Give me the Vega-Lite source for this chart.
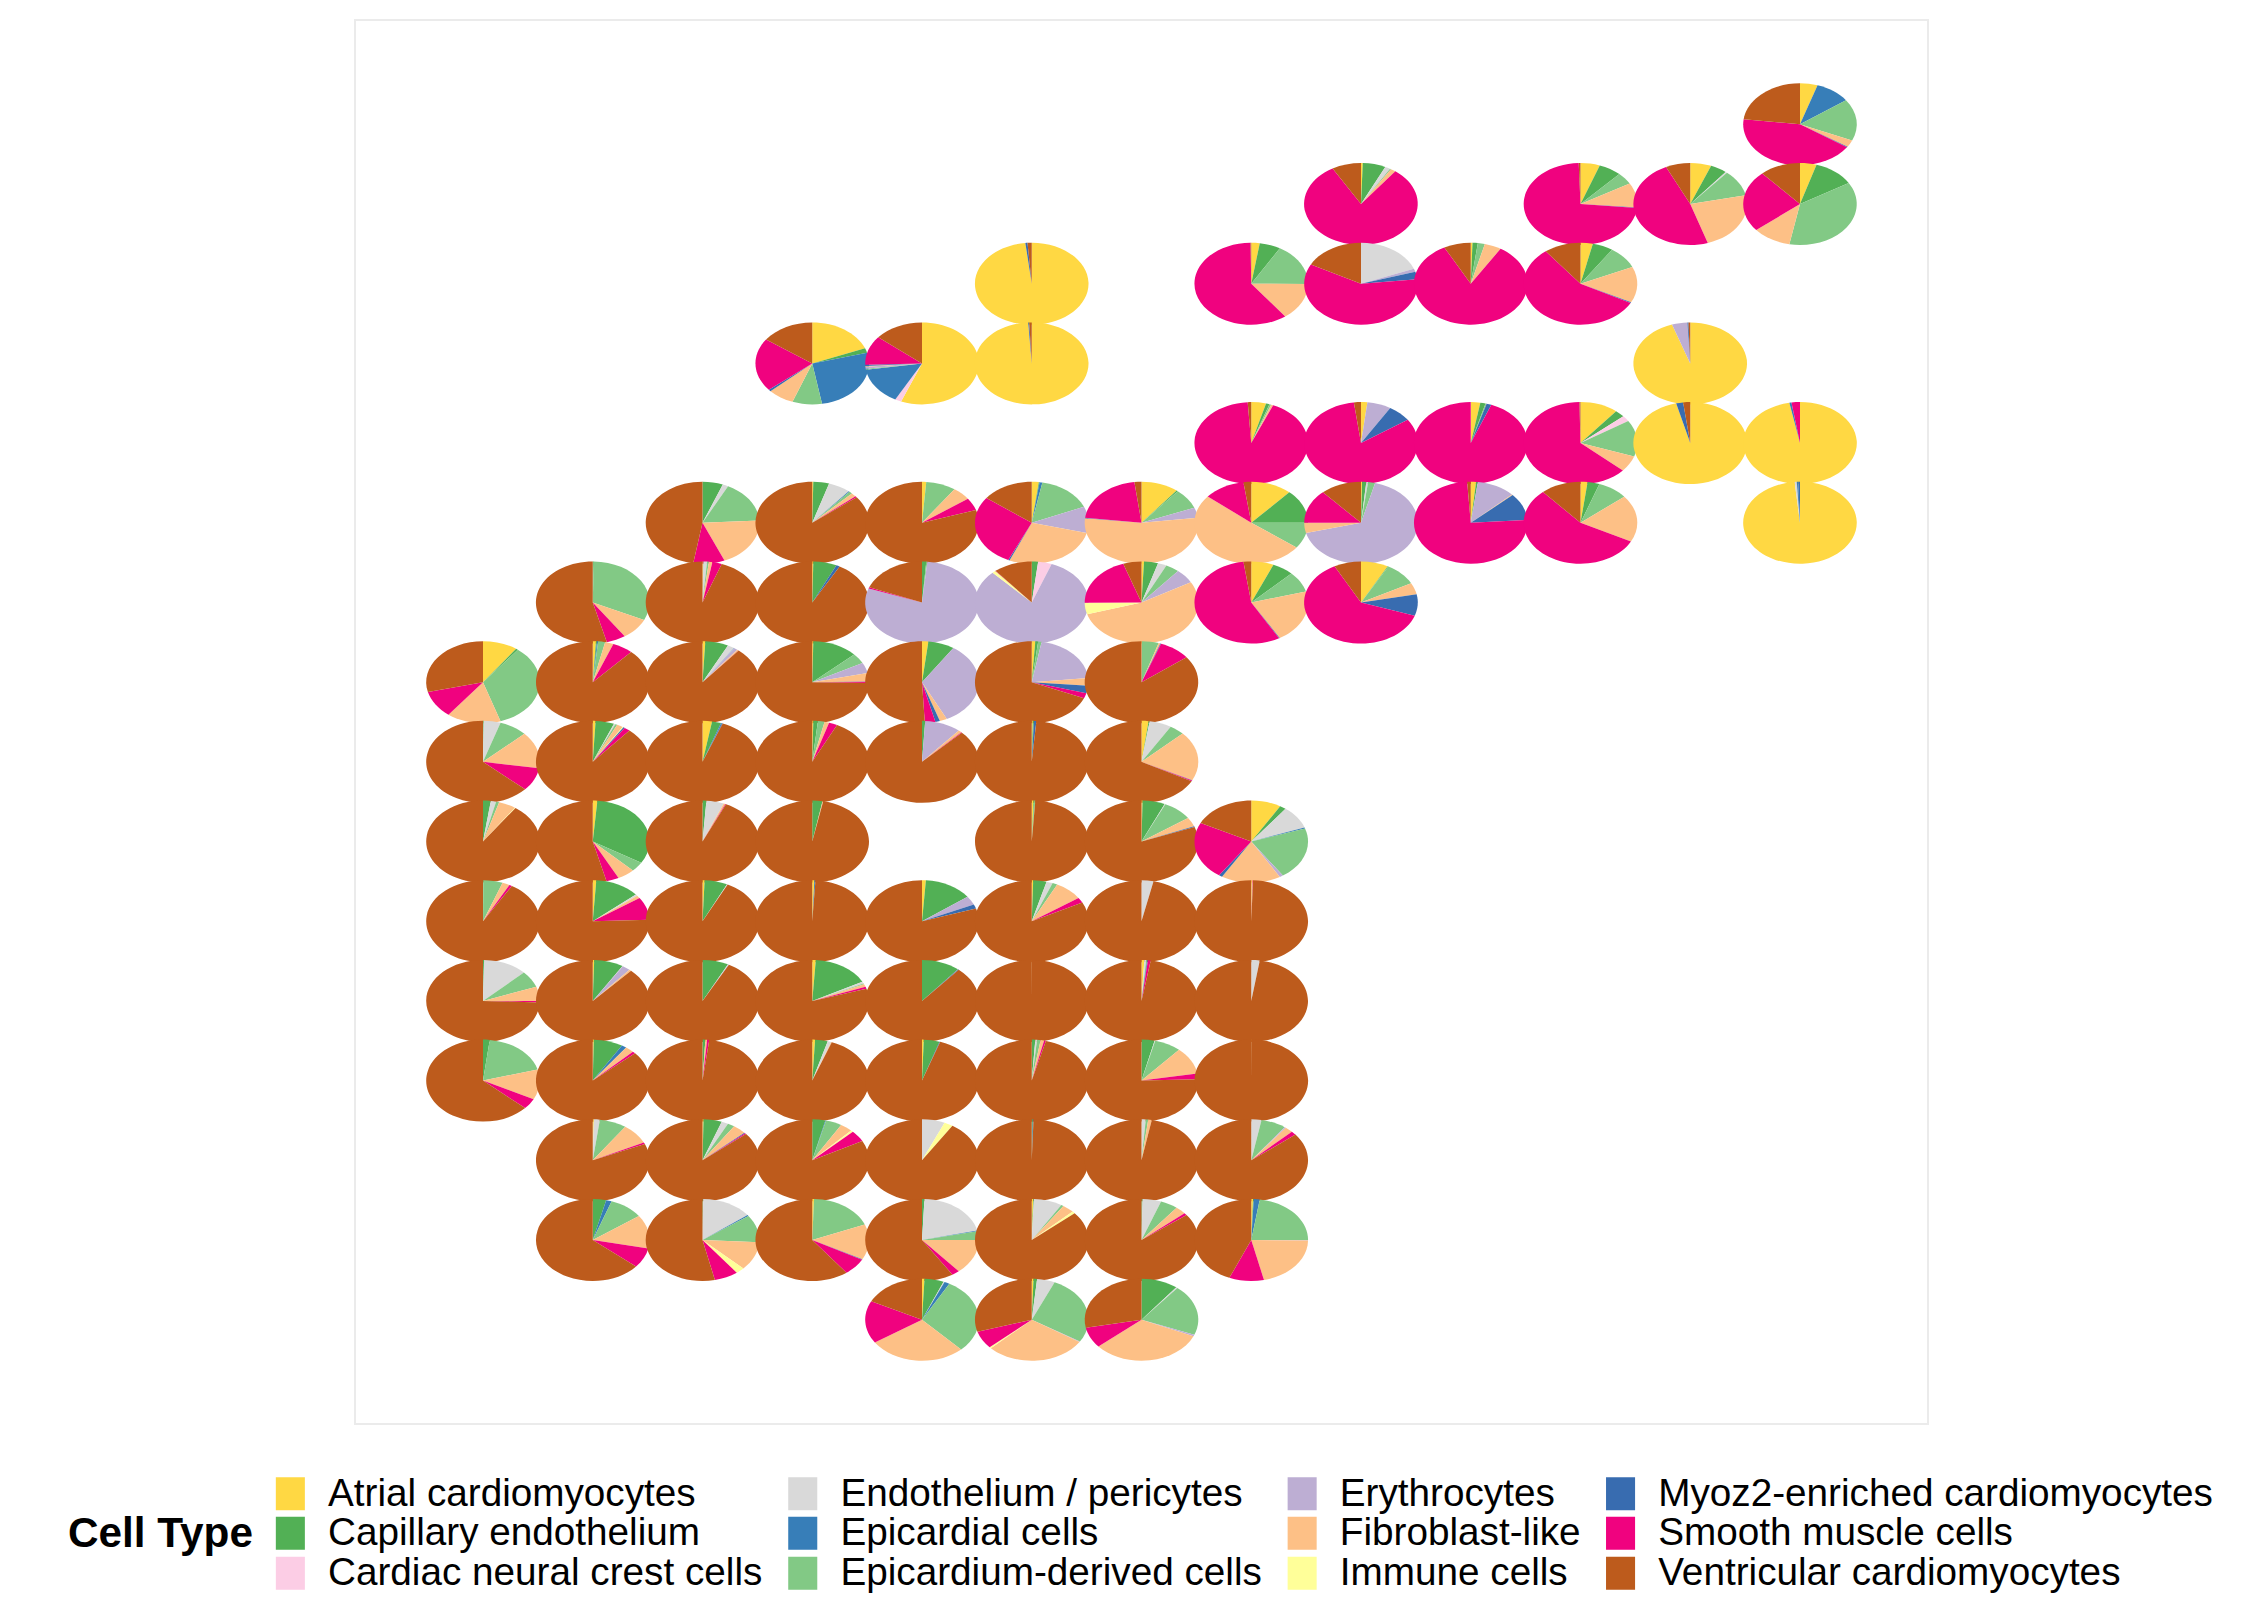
{
  "$schema": "https://vega.github.io/schema/vega-lite/v6.json",
  "autosize": "none",
  "padding": {"left": 355, "top": 20, "right": 314, "bottom": 190},
  "width": 1573,
  "height": 1404,
  "background": "white",
  "view": {"stroke": "#ebebeb", "strokeWidth": 2, "fill": "white"},
  "data": {"values": [
    {"col":13,"row":1,"A":5,"E":10,"F":16.5,"H":2.7,"J":0.3,"K":42.5,"L":23},
    {"col":9,"row":2,"A":0.5,"B":6.5,"D":1.5,"F":0.3,"H":1.5,"K":81,"L":8.3},
    {"col":11,"row":2,"A":5.5,"B":6.5,"F":4.7,"H":9.7,"J":0.2,"K":73,"L":0.5},
    {"col":12,"row":2,"A":6,"B":4.7,"D":0.5,"F":10.4,"H":23.4,"K":48,"L":7},
    {"col":13,"row":2,"A":4.7,"B":11.7,"F":36.6,"H":11,"K":24.4,"L":11.6},
    {"col":6,"row":3,"A":98.2,"J":0.6,"L":1.2},
    {"col":8,"row":3,"A":2.4,"B":6,"F":16.7,"H":14.7,"K":60,"L":0.2},
    {"col":9,"row":3,"D":19,"G":1.3,"J":3,"K":59.4,"L":17.2},
    {"col":10,"row":3,"A":0.5,"B":1.5,"F":2,"H":4.8,"K":83.5,"L":7.7},
    {"col":11,"row":3,"A":3.5,"B":5.9,"F":8.9,"H":14.2,"J":0.3,"K":56.7,"L":10.5},
    {"col":4,"row":4,"A":19,"B":1.8,"E":26.4,"F":8.4,"H":7.5,"J":0.7,"K":21,"L":15.1},
    {"col":5,"row":4,"A":56,"C":1.8,"E":14.7,"F":0.4,"G":0.8,"H":0.3,"J":0.5,"K":11.5,"L":14},
    {"col":6,"row":4,"A":99,"J":0.3,"L":0.7},
    {"col":12,"row":4,"A":94.8,"G":4.4,"J":0.3,"L":0.5},
    {"col":8,"row":5,"A":4.2,"B":1,"F":0.5,"H":0.6,"K":92.7,"L":1},
    {"col":9,"row":5,"A":1.8,"G":6.8,"J":6.8,"K":82.6,"L":2},
    {"col":10,"row":5,"A":2.7,"B":1.5,"F":0.3,"J":1.4,"K":94},
    {"col":11,"row":5,"A":10.8,"B":2.8,"C":2.3,"F":14.4,"H":6.3,"K":63.1,"L":0.3},
    {"col":12,"row":5,"A":96,"J":2,"L":2},
    {"col":13,"row":5,"A":97,"E":0.6,"K":2.4},
    {"col":3,"row":6,"B":5.8,"D":1.6,"F":16.6,"H":19.5,"K":8.9,"L":47.2},
    {"col":4,"row":6,"A":0.3,"B":4.5,"D":6.3,"E":0.3,"F":0.9,"H":1.5,"K":0.5,"L":85.7},
    {"col":5,"row":6,"A":1.2,"F":8.5,"H":5.3,"K":5,"L":80},
    {"col":6,"row":6,"A":2,"B":0.2,"E":0.8,"F":15.6,"G":10.4,"H":27.4,"J":0.4,"K":28.5,"L":14.7},
    {"col":7,"row":6,"A":10.6,"B":0.4,"F":8,"G":4,"H":53.7,"J":0.2,"K":21,"L":2},
    {"col":8,"row":6,"A":11.7,"B":13.3,"F":10.3,"H":50.8,"K":11.7,"L":2.2},
    {"col":9,"row":6,"A":0.3,"B":1.2,"D":0.5,"F":2,"G":67,"H":4,"K":13.3,"L":11.7},
    {"col":10,"row":6,"A":1.5,"B":0.5,"G":10.9,"H":0.3,"J":10.7,"K":75,"L":1},
    {"col":11,"row":6,"A":2,"B":3.4,"F":8.6,"H":18.6,"K":55.9,"L":11.5},
    {"col":13,"row":6,"A":98.5,"D":0.6,"E":0.4,"J":0.5},
    {"col":2,"row":7,"B":0.3,"F":31.7,"H":8.5,"K":5.5,"L":54},
    {"col":3,"row":7,"A":0.2,"B":0.1,"D":1,"F":0.5,"H":1,"K":2.7,"L":94.5},
    {"col":4,"row":7,"A":0.3,"B":6.7,"J":1,"L":92},
    {"col":5,"row":7,"B":1.2,"F":0.3,"G":79,"K":0.5,"L":19},
    {"col":6,"row":7,"B":1.8,"C":3.9,"G":82.2,"I":1,"K":0.1,"L":11},
    {"col":7,"row":7,"A":0.7,"B":4,"D":2.5,"F":3.9,"G":5.6,"H":53.4,"I":4.6,"K":19.8,"L":5.2},
    {"col":8,"row":7,"A":6.4,"B":6.1,"F":8.2,"H":21,"J":0.2,"K":56,"L":2.2},
    {"col":9,"row":7,"A":7.8,"B":0.2,"F":9.2,"H":4.6,"J":8.4,"K":62,"L":7.7},
    {"col":1,"row":8,"A":9.9,"B":0.6,"F":34.5,"H":15.4,"K":10.7,"L":28.9},
    {"col":2,"row":8,"A":0.9,"B":0.3,"E":0.3,"F":2,"H":2.4,"K":5.9,"L":88},
    {"col":3,"row":8,"A":0.8,"B":6.6,"D":2,"E":0.1,"G":1,"H":0.4,"K":0.1,"L":89},
    {"col":4,"row":8,"A":0.3,"B":12.9,"F":4.1,"G":4.1,"H":3.3,"J":0.1,"K":0.5,"L":74.7},
    {"col":5,"row":8,"A":1.8,"B":7.5,"G":33.5,"H":2.1,"J":1.3,"K":3,"L":50.8},
    {"col":6,"row":8,"A":1,"B":0.8,"F":1,"G":20.6,"H":3,"J":3,"K":2,"L":68.6},
    {"col":7,"row":8,"A":0.1,"F":4.8,"H":0.5,"J":0.2,"K":9,"L":85.5},
    {"col":1,"row":9,"B":0.2,"D":4.8,"F":8,"H":14.5,"K":9.2,"L":63.3},
    {"col":2,"row":9,"A":0.8,"B":5.3,"D":0.4,"F":0.6,"H":1.7,"I":0.3,"J":0.4,"K":1.7,"L":88.8},
    {"col":3,"row":9,"A":2.7,"B":2.6,"E":0.3,"J":0.2,"L":94.2},
    {"col":4,"row":9,"A":0.3,"B":1.3,"F":1.9,"H":1.3,"K":2.4,"L":92.8},
    {"col":5,"row":9,"B":0.9,"G":10.3,"H":1,"K":0.2,"L":87.6},
    {"col":6,"row":9,"A":0.3,"B":0.3,"J":0.7,"L":98.7},
    {"col":7,"row":9,"A":2,"B":0.3,"D":6.3,"F":4.3,"H":19.5,"J":0.1,"K":0.3,"L":67.2},
    {"col":1,"row":10,"B":2.2,"D":1.5,"F":0.9,"H":4.9,"I":0.2,"L":90.3},
    {"col":2,"row":10,"A":1.3,"B":32.4,"F":3.8,"H":5,"K":3.6,"L":53.9},
    {"col":3,"row":10,"B":1.1,"D":5,"H":0.5,"K":0.2,"L":93.2},
    {"col":4,"row":10,"B":2.9,"H":0.2,"L":96.9},
    {"col":6,"row":10,"A":0.5,"B":0.2,"F":0.3,"L":99},
    {"col":7,"row":10,"A":0.3,"B":6.4,"D":0.2,"F":8.4,"H":3.6,"J":0.3,"L":80.8},
    {"col":8,"row":10,"A":8.5,"B":1.8,"D":9.1,"E":0.4,"F":20.8,"G":1,"H":17,"J":1,"K":22.9,"L":17.5},
    {"col":1,"row":11,"B":0.1,"F":5.5,"H":2.1,"K":0.8,"L":91.5},
    {"col":2,"row":11,"A":1,"B":12.7,"D":0.6,"H":1.1,"K":9,"L":75.5},
    {"col":3,"row":11,"A":0.6,"B":6.5,"D":0.2,"L":92.6},
    {"col":4,"row":11,"A":0.6,"E":0.3,"L":99},
    {"col":5,"row":11,"A":1.1,"B":13.7,"G":3.5,"J":1.7,"L":80},
    {"col":6,"row":11,"A":0.4,"B":3.8,"D":1.8,"F":1.4,"H":8,"K":2.1,"L":82.5},
    {"col":7,"row":11,"D":3.4,"L":96.6},
    {"col":8,"row":11,"A":0.2,"H":0.2,"K":0.1,"L":99.5},
    {"col":1,"row":12,"B":0.3,"D":12.5,"F":6.6,"H":5.6,"K":0.6,"L":74.4},
    {"col":2,"row":12,"A":0.4,"B":8.4,"D":0.1,"G":2.3,"H":0.6,"L":88.3},
    {"col":3,"row":12,"B":7.4,"D":0.2,"G":0.1,"L":92.3},
    {"col":4,"row":12,"A":1,"B":16.2,"D":0.8,"F":0.3,"H":1.1,"K":0.8,"L":79.8},
    {"col":5,"row":12,"B":10.9,"H":0.1,"J":0.2,"L":88.8},
    {"col":6,"row":12,"A":0.05,"L":99.95},
    {"col":7,"row":12,"A":0.8,"D":0.5,"F":0.3,"J":0.2,"K":0.8,"L":97.4},
    {"col":8,"row":12,"D":2.4,"L":97.6},
    {"col":1,"row":13,"B":1.9,"F":18.7,"H":11.9,"K":4.2,"L":63.3},
    {"col":2,"row":13,"A":0.3,"B":8.3,"E":1.4,"H":2.5,"K":0.9,"L":86.6},
    {"col":3,"row":13,"B":0.8,"H":0.5,"K":0.6,"L":98.1},
    {"col":4,"row":13,"A":0.8,"B":3.6,"D":1,"H":0.2,"L":94.4},
    {"col":5,"row":13,"A":0.5,"B":4.5,"J":0.2,"L":94.8},
    {"col":6,"row":13,"B":1,"D":0.5,"F":1,"H":1,"K":0.5,"L":96},
    {"col":7,"row":13,"B":3.7,"D":0.2,"F":7.6,"H":10.7,"K":2.3,"L":75.5},
    {"col":8,"row":13,"A":0.05,"L":99.95},
    {"col":2,"row":14,"A":0.3,"D":1.7,"F":7.7,"H":8.1,"K":0.7,"L":81.5},
    {"col":3,"row":14,"A":0.3,"B":5.2,"D":1.9,"F":2,"H":3.8,"J":0.3,"K":0.4,"L":86},
    {"col":4,"row":14,"B":3.7,"E":0.2,"F":4.6,"H":3.5,"I":0.7,"K":4.5,"L":82.8},
    {"col":5,"row":14,"D":6.5,"I":2.5,"L":91},
    {"col":6,"row":14,"B":0.3,"J":0.2,"L":99.5},
    {"col":7,"row":14,"D":1.2,"F":0.7,"H":1,"L":97.1},
    {"col":8,"row":14,"D":2.9,"F":7.1,"G":0.4,"H":2.3,"K":1.5,"L":85.8},
    {"col":2,"row":15,"B":3.8,"E":1.6,"F":9.7,"H":13.2,"K":7.9,"L":63.8},
    {"col":3,"row":15,"B":0.2,"D":14.4,"E":0.4,"F":10.9,"H":11.3,"I":2.5,"K":6.8,"L":53.5},
    {"col":4,"row":15,"A":0.5,"F":18.3,"J":0.2,"H":14,"K":6.7,"L":60.3},
    {"col":5,"row":15,"B":0.7,"D":20.6,"E":0.3,"F":3.4,"H":13.8,"K":2.2,"L":59},
    {"col":6,"row":15,"A":0.4,"B":0.2,"D":8.1,"F":0.7,"H":3.4,"I":0.8,"L":86.2},
    {"col":7,"row":15,"B":0.3,"D":5.3,"F":5,"H":3.1,"K":0.9,"L":85.4},
    {"col":8,"row":15,"A":0.5,"B":0.2,"E":1.7,"F":22.6,"G":0.2,"H":21.2,"K":9.9,"L":43.7},
    {"col":5,"row":16,"A":0.7,"B":5.5,"D":0.3,"E":1.5,"F":29.9,"H":27.7,"K":16.8,"L":17.6},
    {"col":6,"row":16,"A":0.5,"B":1,"D":5.1,"F":27.3,"G":0.2,"H":28.7,"I":0.5,"K":7,"L":29.7},
    {"col":7,"row":16,"B":10.5,"D":0.4,"F":20.1,"G":0.6,"H":32.1,"K":8.2,"L":28.1}
  ]},
  "transform": [
    {"fold": ["A","B","C","D","E","F","G","H","I","J","K","L"], "as": ["code","share"]},
    {"filter": "datum.share > 0"},
    {"lookup": "code", "from": {"data": {"values": [
      {"code":"A","name":"Atrial cardiomyocytes"},
      {"code":"B","name":"Capillary endothelium"},
      {"code":"C","name":"Cardiac neural crest cells"},
      {"code":"D","name":"Endothelium / pericytes"},
      {"code":"E","name":"Epicardial cells"},
      {"code":"F","name":"Epicardium-derived cells"},
      {"code":"G","name":"Erythrocytes"},
      {"code":"H","name":"Fibroblast-like"},
      {"code":"I","name":"Immune cells"},
      {"code":"J","name":"Myoz2-enriched cardiomyocytes"},
      {"code":"K","name":"Smooth muscle cells"},
      {"code":"L","name":"Ventricular cardiomyocytes"}
    ]}, "key": "code", "fields": ["name"]}},
    {"stack": "share", "groupby": ["col","row"], "sort": [{"field": "code", "order": "ascending"}], "offset": "normalize", "as": ["s0","s1"]},
    {"calculate": "datum.s0 * 2 * PI", "as": "a0"},
    {"calculate": "datum.s1 * 2 * PI", "as": "a1"},
    {"calculate": "'M0,0L' + round(5680 * sin(datum.a0)) / 100 + ',' + round(-4100 * cos(datum.a0)) / 100 + 'A56.8,41 0 ' + (datum.s1 - datum.s0 > 0.5 ? 1 : 0) + ' 1 ' + round(5680 * sin(datum.a1)) / 100 + ',' + round(-4100 * cos(datum.a1)) / 100 + 'Z'", "as": "wedge"}
  ],
  "mark": {"type": "point", "filled": true, "opacity": 1, "size": 4, "strokeWidth": 0},
  "encoding": {
    "x": {"field": "col", "type": "quantitative", "axis": null, "scale": {"domain": [-0.1663, 14.1663], "nice": false, "zero": false}},
    "y": {"field": "row", "type": "quantitative", "axis": null, "scale": {"domain": [-0.3087, 17.3087], "reverse": true, "nice": false, "zero": false}},
    "shape": {"field": "wedge", "type": "nominal", "scale": null, "legend": null},
    "color": {
      "field": "name",
      "type": "nominal",
      "title": "Cell Type",
      "scale": {
        "domain": ["Atrial cardiomyocytes","Capillary endothelium","Cardiac neural crest cells","Endothelium / pericytes","Epicardial cells","Epicardium-derived cells","Erythrocytes","Fibroblast-like","Immune cells","Myoz2-enriched cardiomyocytes","Smooth muscle cells","Ventricular cardiomyocytes"],
        "range": ["#FFD843","#52B055","#FCCDE5","#D9D9D9","#377EB8","#82C985","#BDAED3","#FDC086","#FFFF99","#386CB0","#F0027F","#BD5B1C"]
      },
      "legend": {
        "orient": "none",
        "legendX": -287,
        "legendY": 1454,
        "direction": "vertical",
        "columns": 4,
        "padding": 0,
        "rowPadding": 0,
        "columnPadding": 20.4,
        "gridAlign": "each",
        "symbolType": "M-0.88,-1H0.88V1H-0.88Z",
        "symbolSize": 1089,
        "symbolStrokeWidth": 0,
        "symbolOpacity": 1,
        "labelFont": "Liberation Sans",
        "labelFontSize": 38.7,
        "labelColor": "black",
        "labelOffset": 18.3,
        "labelLimit": 800,
        "titleFont": "Liberation Sans",
        "titleFontSize": 42.3,
        "titleFontWeight": "bold",
        "titleColor": "black",
        "titleOrient": "left",
        "titleAnchor": "middle",
        "titleBaseline": "middle",
        "titlePadding": 18,
        "titleLimit": 400
      }
    }
  }
}
